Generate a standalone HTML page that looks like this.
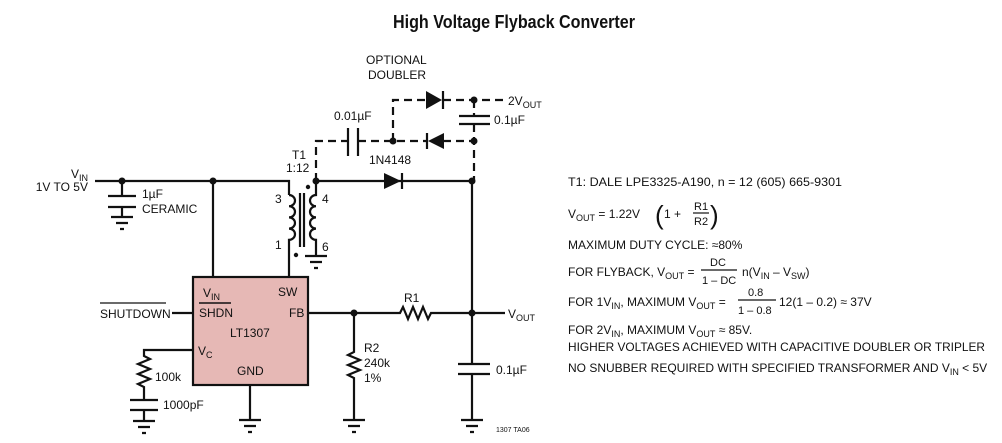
<!DOCTYPE html>
<html><head><meta charset="utf-8"><style>
html,body{margin:0;padding:0;background:#fff;}
svg{display:block;}
text{font-family:"Liberation Sans",sans-serif;fill:#111;}
</style></head><body>
<svg width="1002" height="443" viewBox="0 0 1002 443" xmlns="http://www.w3.org/2000/svg">
<text x="393" y="28" font-size="18" font-weight="bold" textLength="242" lengthAdjust="spacingAndGlyphs">High Voltage Flyback Converter</text>

<g stroke="#111" stroke-width="2.2" fill="none">
<path d="M95 181 H289 V195"/>
<path d="M122 181 V196 M108 196 H136 M108 207 H136 M122 207 V217 M111 217 H133 M116 223 H128 M120 229 H124"/>
<path d="M213 181 V277"/>
<path d="M289 195 a6 5.6 0 0 1 0 11.2 a6 5.6 0 0 1 0 11.2 a6 5.6 0 0 1 0 11.2 a6 5.6 0 0 1 0 11.2 V277"/>
<path d="M300 193 V247 M304 193 V247"/>
<path d="M316 181 V195 a6 5.6 0 0 0 0 11.2 a6 5.6 0 0 0 0 11.2 a6 5.6 0 0 0 0 11.2 a6 5.6 0 0 0 0 11.2 V256 M305 256 H327 M310 262 H322 M314 268 H318"/>
<path d="M316 181 H472 V313"/>
<path d="M402 173 V189"/>
<path d="M308 313 H400 l3 -6 l5 12 l5 -12 l5 12 l5 -12 l5 12 l3 -6 H505"/>
<path d="M172 313 H193"/>
<path d="M354 313 V352 l-6 3 l12 5 l-12 5 l12 5 l-12 5 l6 3 V420 M343 420 H365 M348 426 H360 M352 432 H356"/>
<path d="M472 313 V364 M458 364 H490 M458 374 H490 M472 374 V420 M461 420 H483 M466 426 H478 M470 432 H474"/>
<path d="M250 385 V420 M239 420 H261 M244 426 H256 M248 432 H252"/>
<path d="M193 350 H144 V356 l6 3 l-12 5 l12 5 l-12 5 l12 5 l-12 5 l6 3 V400 M130 400 H158 M130 410 H158 M144 410 V421 M133 421 H155 M138 427 H150 M142 433 H146"/>
<g stroke-dasharray="8,5">
<path d="M316 181 V141 H348"/>
<path d="M358 141 H428"/>
<path d="M443 141 H474"/>
<path d="M393 141 V100 H426"/>
<path d="M443 100 H505"/>
<path d="M474 100 V116 M474 124 V181"/>
</g>
<path d="M348 128 V156 M358 128 V156"/>
<path d="M459 116 H490 M459 124 H490"/>
<path d="M443 91 V109"/>
<path d="M427 133 V149"/>
<rect x="193" y="277" width="115" height="108" fill="#e6b8b5"/>
<path d="M199 303 H231" stroke-width="1.4"/>
<path d="M100 303 H166" stroke-width="1.2"/>
</g>
<g fill="#111">
<circle cx="122" cy="181" r="3.5"/><circle cx="213" cy="181" r="3.5"/><circle cx="316" cy="181" r="3.5"/>
<circle cx="472" cy="181" r="3.5"/><circle cx="354" cy="313" r="3.5"/><circle cx="472" cy="313" r="3.5"/>
<circle cx="393" cy="141" r="3.5"/><circle cx="474" cy="141" r="3.5"/><circle cx="474" cy="100" r="3.5"/>
<circle cx="308" cy="187" r="2.2"/><circle cx="296" cy="255" r="2.2"/>
<polygon points="384,173 384,189 401,181"/>
<polygon points="426,91 426,109 442,100"/>
<polygon points="444,133 444,149 428,141"/>
</g>

<g font-size="12">
<text x="88" y="178" text-anchor="end">V<tspan font-size="9" dy="3">IN</tspan></text>
<text x="88" y="191" text-anchor="end">1V TO 5V</text>
<text x="142" y="198">1µF</text>
<text x="142" y="213">CERAMIC</text>
<text x="366" y="64">OPTIONAL</text>
<text x="368" y="79">DOUBLER</text>
<text x="334" y="120">0.01µF</text>
<text x="369" y="164">1N4148</text>
<text x="494" y="124">0.1µF</text>
<text x="508" y="105">2V<tspan font-size="9" dy="3">OUT</tspan></text>
<text x="292" y="159">T1</text>
<text x="286" y="172">1:12</text>
<text x="275" y="203">3</text>
<text x="322" y="203">4</text>
<text x="275" y="249">1</text>
<text x="322" y="251">6</text>
<text x="404" y="302">R1</text>
<text x="508" y="318">V<tspan font-size="9" dy="3">OUT</tspan></text>
<text x="100" y="318">SHUTDOWN</text>
<text x="203" y="297">V<tspan font-size="9" dy="3">IN</tspan></text>
<text x="199" y="317">SHDN</text>
<text x="278" y="296">SW</text>
<text x="289" y="317">FB</text>
<text x="230" y="337">LT1307</text>
<text x="198" y="355">V<tspan font-size="9" dy="3">C</tspan></text>
<text x="237" y="375">GND</text>
<text x="364" y="352">R2</text>
<text x="364" y="367">240k</text>
<text x="364" y="382">1%</text>
<text x="155" y="381">100k</text>
<text x="163" y="409">1000pF</text>
<text x="496" y="374">0.1µF</text>
<text x="496" y="432" font-size="7">1307 TA06</text>

<text x="568" y="186" textLength="274" lengthAdjust="spacingAndGlyphs">T1: DALE LPE3325-A190, n = 12 (605) 665-9301</text>
<text x="568" y="218">V<tspan font-size="9" dy="3">OUT</tspan><tspan dy="-3"> = 1.22V</tspan></text>
<text x="655" y="224" font-size="26">(</text>
<text x="664" y="218">1 +</text>
<text x="694" y="210" font-size="11">R1</text>
<text x="694" y="225" font-size="11">R2</text>
<line x1="693" y1="213" x2="709" y2="213" stroke="#111" stroke-width="1.2"/>
<text x="710" y="224" font-size="26">)</text>
<text x="568" y="249">MAXIMUM DUTY CYCLE: ≈80%</text>
<text x="568" y="276">FOR FLYBACK, V<tspan font-size="9" dy="3">OUT</tspan><tspan dy="-3"> =</tspan></text>
<text x="710" y="266" font-size="11">DC</text>
<text x="702" y="284" font-size="11">1 – DC</text>
<line x1="701" y1="270" x2="737" y2="270" stroke="#111" stroke-width="1.2"/>
<text x="742" y="276">n(V<tspan font-size="9" dy="3">IN</tspan><tspan dy="-3"> – V</tspan><tspan font-size="9" dy="3">SW</tspan><tspan dy="-3">)</tspan></text>
<text x="568" y="306">FOR 1V<tspan font-size="9" dy="3">IN</tspan><tspan dy="-3">, MAXIMUM V</tspan><tspan font-size="9" dy="3">OUT</tspan><tspan dy="-3"> =</tspan></text>
<text x="748" y="296" font-size="11">0.8</text>
<text x="738" y="314" font-size="11">1 – 0.8</text>
<line x1="738" y1="300" x2="776" y2="300" stroke="#111" stroke-width="1.2"/>
<text x="779" y="306">12(1 – 0.2) ≈ 37V</text>
<text x="568" y="334">FOR 2V<tspan font-size="9" dy="3">IN</tspan><tspan dy="-3">, MAXIMUM V</tspan><tspan font-size="9" dy="3">OUT</tspan><tspan dy="-3"> ≈ 85V.</tspan></text>
<text x="568" y="351" textLength="417" lengthAdjust="spacingAndGlyphs">HIGHER VOLTAGES ACHIEVED WITH CAPACITIVE DOUBLER OR TRIPLER</text>
<text x="568" y="372">NO SNUBBER REQUIRED WITH SPECIFIED TRANSFORMER AND V<tspan font-size="9" dy="3">IN</tspan><tspan dy="-3"> &lt; 5V</tspan></text>
</g>
</svg>
</body></html>
